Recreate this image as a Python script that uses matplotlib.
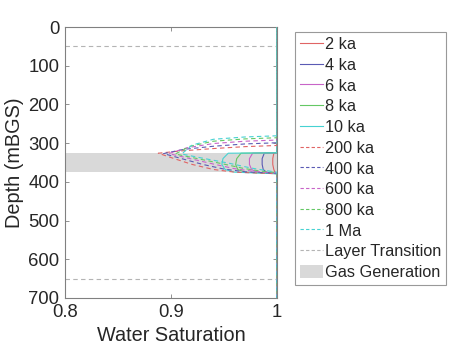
import matplotlib
matplotlib.use("Agg")
import matplotlib.pyplot as plt
from matplotlib.patches import Patch
from matplotlib.lines import Line2D

plt.rcParams['font.family'] = ['Liberation Sans', 'DejaVu Sans']

# ---- data ----
labels = ["2 ka", "4 ka", "6 ka", "8 ka", "10 ka",
          "200 ka", "400 ka", "600 ka", "800 ka", "1 Ma"]
colors = ["#e06464", "#5a5ab4", "#c864c8", "#64c864", "#46d2d2",
          "#e06464", "#5a5ab4", "#c864c8", "#64c864", "#46d2d2"]
styles = ["-"] * 5 + ["--"] * 5

depth_2ka = [0, 325, 326, 340, 355, 368, 375, 379, 700]
sw_2ka = [1, 1, 0.997, 0.996, 0.996, 0.997, 0.998, 1, 1]
depth_4ka = [0, 325, 326, 340, 355, 368, 375, 379, 700]
sw_4ka = [1, 1, 0.988, 0.986, 0.986, 0.987, 0.990, 1, 1]
depth_6ka = [0, 325, 326, 340, 355, 368, 375, 379, 700]
sw_6ka = [1, 1, 0.977, 0.974, 0.974, 0.976, 0.981, 1, 1]
depth_8ka = [0, 325, 326, 340, 355, 368, 375, 379, 700]
sw_8ka = [1, 1, 0.966, 0.962, 0.961, 0.963, 0.970, 1, 1]
depth_10ka = [0, 325, 326, 340, 355, 368, 375, 379, 700]
sw_10ka = [1, 1, 0.954, 0.949, 0.948, 0.951, 0.960, 1, 1]

depth_200ka = [0, 306, 309, 314, 320, 326, 340, 355, 368, 375, 379, 700]
sw_200ka = [1, 1, 0.97, 0.94, 0.91, 0.888, 0.903, 0.920, 0.940, 0.960, 1, 1]
depth_400ka = [0, 299, 302, 308, 316, 327, 340, 355, 367, 374, 378, 700]
sw_400ka = [1, 1, 0.97, 0.94, 0.912, 0.893, 0.910, 0.930, 0.950, 0.970, 1, 1]
depth_600ka = [0, 292, 295, 301, 312, 327, 340, 354, 366, 373, 377, 700]
sw_600ka = [1, 1, 0.97, 0.94, 0.915, 0.898, 0.918, 0.940, 0.960, 0.978, 1, 1]
depth_800ka = [0, 286, 289, 295, 308, 328, 340, 353, 365, 372, 376, 700]
sw_800ka = [1, 1, 0.97, 0.94, 0.918, 0.904, 0.925, 0.948, 0.968, 0.984, 1, 1]
depth_1Ma = [0, 281, 284, 290, 305, 328, 340, 352, 364, 371, 375, 700]
sw_1Ma = [1, 1, 0.97, 0.94, 0.920, 0.910, 0.932, 0.955, 0.975, 0.990, 1, 1]

series_depth = [depth_2ka, depth_4ka, depth_6ka, depth_8ka, depth_10ka,
                depth_200ka, depth_400ka, depth_600ka, depth_800ka, depth_1Ma]
series_sw = [sw_2ka, sw_4ka, sw_6ka, sw_8ka, sw_10ka,
             sw_200ka, sw_400ka, sw_600ka, sw_800ka, sw_1Ma]

layer_transitions = [50, 650]
gas_top, gas_bottom = 325, 375

# ---- figure ----
fig = plt.figure(figsize=(4.74, 3.55), dpi=100)
ax = fig.add_axes([65 / 474, 1 - 298 / 355, (277 - 65) / 474, (298 - 27) / 355])

ax.axhspan(gas_top, gas_bottom, color="#d9d9d9", lw=0, zorder=1)
for d in layer_transitions:
    ax.axhline(d, color="#b4b4b4", ls=(0, (4, 3)), lw=0.8, zorder=2)

for dep, sw, c, s in zip(series_depth, series_sw, colors, styles):
    ls = (0, (4, 3)) if s == "--" else "-"
    ax.plot(sw, dep, color=c, ls=ls, lw=0.8, zorder=3)

ax.set_xlim(0.8, 1)
ax.set_ylim(700, 0)
ax.set_xticks([0.8, 0.9, 1.0])
ax.set_xticklabels(["0.8", "0.9", "1"])
ax.set_yticks(range(0, 701, 100))

grey = "#808080"
txt = "#262626"
for sp in ax.spines.values():
    sp.set_color(grey)
    sp.set_linewidth(0.8)
ax.tick_params(direction="in", length=3, width=0.6, color=grey,
               labelsize=13.3, labelcolor=txt, top=True, right=True, pad=4)
ax.set_xlabel("Water Saturation", fontsize=14.3, color=txt, labelpad=4)
ax.set_ylabel("Depth (mBGS)", fontsize=14.3, color=txt, labelpad=3)

handles = []
for lab, c, s in zip(labels, colors, styles):
    ls = (0, (3, 2)) if s == "--" else "-"
    handles.append(Line2D([], [], color=c, ls=ls, lw=0.8, label=lab))
handles.append(Line2D([], [], color="#b4b4b4", ls=(0, (3, 2)), lw=0.8,
                      label="Layer Transition"))
handles.append(Patch(facecolor="#d9d9d9", edgecolor="none", label="Gas Generation"))

leg = fig.legend(handles=handles, loc="upper left",
                 bbox_to_anchor=(295 / 474, 1 - 32 / 355),
                 bbox_transform=fig.transFigure, borderaxespad=0,
                 fontsize=11.7, frameon=True, fancybox=False,
                 handlelength=1.4, handletextpad=0.15, labelspacing=0.33,
                 borderpad=0.3, handleheight=0.9)
leg.get_frame().set_edgecolor(grey)
leg.get_frame().set_linewidth(0.8)
for t in leg.get_texts():
    t.set_color(txt)

fig.savefig("out.png", dpi=100)
